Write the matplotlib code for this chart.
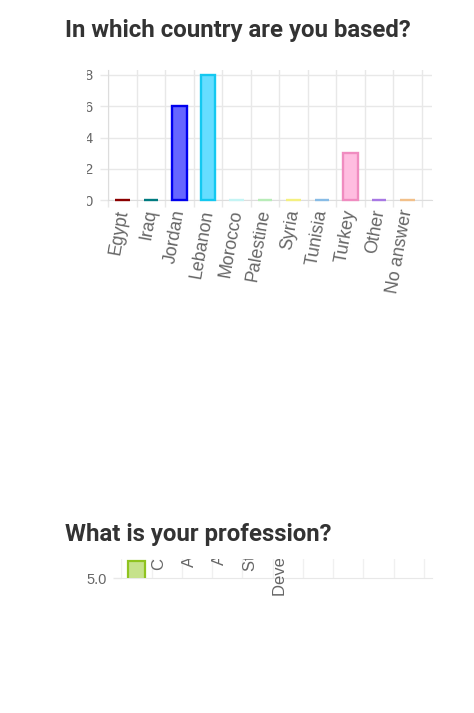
import matplotlib
matplotlib.use("Agg")
import matplotlib.pyplot as plt
from matplotlib.transforms import Bbox, TransformedBbox
import numpy as np

# chart 1 - countries
countries = ["Egypt", "Iraq", "Jordan", "Lebanon", "Morocco", "Palestine",
             "Syria", "Tunisia", "Turkey", "Other", "No answer"]
country_counts = [0, 0, 6, 8, 0, 0, 0, 0, 3, 0, 0]
country_fill = ["#8b0000", "#007b80", "#6666ff", "#66ddff", "#d6fafa", "#ccf2cc",
                "#fafaa0", "#99c8ec", "#ffbde0", "#b890ea", "#f7cfa0"]
country_edge = ["#8b0000", "#007b80", "#0000ee", "#14c8f0", "#c4f4f4", "#b8ecb8",
                "#f4f080", "#88bce6", "#f08cc0", "#a878e4", "#f2c08a"]

# chart 2 - professions (only the start of the labels is visible)
professions = ["Researcher", "Consultants / Advisor", "Academic / Teachers",
               "Activists / Advocates", "Students / Graduates",
               "Developer / Programmer", "Journalist", "Designer", "Other",
               "No answer"]
profession_counts = [6, 0, 0, 0, 0, 0, 0, 0, 0, 0]

W, H = 474, 713
grid = "#e8e8e8"
tick_col = "#666666"
plt.rcParams["font.family"] = ["Liberation Sans", "DejaVu Sans"]

fig = plt.figure(figsize=(W / 100, H / 100), dpi=100)


def box(x0, y0, x1, y1):
    # pixel box (top-left origin) -> figure fraction rect
    return [x0 / W, 1 - y1 / H, (x1 - x0) / W, (y1 - y0) / H]


fig.text(65 / W, 1 - 31 / H, "In which country are you based?", fontsize=17.3,
         fontweight="bold", family="Roboto", color="#333333", va="center")
fig.text(65 / W, 1 - 534 / H, "What is your profession?", fontsize=17.3,
         fontweight="bold", family="Roboto", color="#333333", va="center")

# ---- chart 1
ax = fig.add_axes(box(108.3, 70, 431.7, 200))
x = np.arange(len(countries))
ax.bar(x, country_counts, width=0.5, color=country_fill, edgecolor=country_edge,
       linewidth=1.7, zorder=3, clip_on=False)
ax.set_xlim(-0.5, 10.85)
ax.set_ylim(0, 8.32)
ax.set_yticks([0, 2, 4, 6, 8])
ax.set_xticks(x)
ax.set_xticklabels(countries, rotation=80, ha="right", rotation_mode="anchor",
                   va="center", fontsize=12.8, color=tick_col)
ax.set_xticks(np.arange(-0.5, 10.6, 1), minor=True)
ax.tick_params(axis="x", which="major", length=0, pad=7)
ax.tick_params(axis="x", which="minor", length=5, color=grid, width=1)
ax.tick_params(axis="y", length=5.8, color=grid, width=1, pad=5.5,
               labelsize=10.5, labelcolor=tick_col)
ax.grid(True, which="minor", axis="x", color=grid, lw=1, zorder=0)
ax.grid(True, which="major", axis="y", color=grid, lw=1, zorder=0)
for s in ["top", "right"]:
    ax.spines[s].set_visible(False)
for s in ["left", "bottom"]:
    ax.spines[s].set_color("#dddddd")

# the y labels are cut off on the left in the original
clip1 = TransformedBbox(Bbox([[87 / W, 0], [1, 1]]), fig.transFigure)
for lbl in ax.get_yticklabels():
    lbl.set_clip_box(clip1)
    lbl.set_clip_on(True)

# ---- chart 2
ax2 = fig.add_axes(box(121.5, 559, 432, 578))
x2 = np.arange(len(professions))
ax2.bar(x2, profession_counts, width=0.55, color="#c6e28c", edgecolor="#8fc31f",
        linewidth=1.6, zorder=3)
ax2.set_xlim(-0.5, 9.77)
ax2.set_ylim(5, 6.1)
ax2.set_yticks([5])
ax2.set_yticklabels(["5.0"])
ax2.set_xticks(np.arange(-0.5, 9.6, 1))
ax2.set_xticklabels([])
ax2.tick_params(axis="x", length=0)
ax2.tick_params(axis="y", length=5.8, color=grid, width=1, pad=5,
                labelsize=10.5, labelcolor=tick_col)
ax2.grid(True, axis="x", color="#f0f0f0", lw=1, zorder=0)
for s in ["top", "right", "left"]:
    ax2.spines[s].set_visible(False)
ax2.spines["bottom"].set_color(grid)

clip2 = TransformedBbox(Bbox([[0, 0], [1, 1 - 559 / H]]), fig.transFigure)
for i, name in enumerate(professions):
    t = ax2.text(i, 8.7, name, transform=ax2.get_xaxis_transform(), rotation=90,
                 rotation_mode="anchor", ha="right", va="bottom", fontsize=12,
                 color=tick_col)
    t.set_clip_box(clip2)
    t.set_clip_on(True)

fig.savefig("out.png", dpi=100)
